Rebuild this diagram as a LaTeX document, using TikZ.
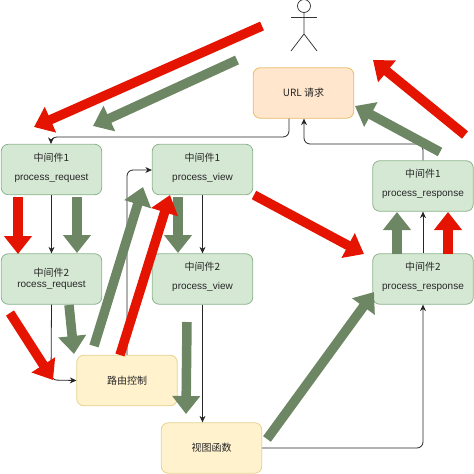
\documentclass[tikz,border=0pt]{standalone}
\usepackage{fontspec}
\setmainfont{Liberation Sans}
\newfontfamily\cjk{Noto Sans CJK SC}
\usetikzlibrary{arrows.meta}
\tikzset{
  x=1pt,y=-1pt,
  box/.style={draw=#1,rectangle,rounded corners=7pt,line width=0.8pt,minimum width=100.5pt,minimum height=50.5pt,inner sep=0pt,align=center,font=\fontsize{10}{12}\selectfont,text=black!85},
  gbox/.style={box=green!35!black!45!white,fill=greenfill,text depth=6pt},
  obox/.style={box=orangeline,fill=orangefill},
  ybox/.style={box=yellowline,fill=yellowfill},
  conn/.style={draw=black!85,line width=0.8pt,rounded corners=6pt,-{Stealth[length=6.5pt,width=6pt]}},
  fat/.style={draw=#1,line width=9.5pt,-{Triangle[length=18pt,width=27pt]}},
  stick/.style={draw=black!80,line width=0.75pt}
}
\definecolor{greenfill}{HTML}{D5E8D4}
\definecolor{orangefill}{HTML}{FFE6CC}
\definecolor{orangeline}{HTML}{E8BC6A}
\definecolor{yellowfill}{HTML}{FFF2CC}
\definecolor{yellowline}{HTML}{E6D28E}
\definecolor{fatgreen}{HTML}{6D8764}
\definecolor{fatred}{HTML}{E51400}
\begin{document}
\begin{tikzpicture}
\useasboundingbox (0,0) rectangle (474,474);
\clip (0,0) rectangle (474,474);
% stick figure
\node[circle,draw=black!80,line width=0.75pt,fill=white,minimum size=13pt,inner sep=0pt] (head) at (304,6) {};
\coordinate (hip) at (304,34);
\coordinate (lf) at (291,51);
\coordinate (rf) at (317,51);
\coordinate (al) at (291,17);
\coordinate (ar) at (316.5,17);
\draw[stick] (head.south) -- (hip) -- (lf);
\draw[stick] (hip) -- (rf);
\draw[stick] (al) -- (ar);
% boxes
\node[obox] (url) at (303.5,93) {{\cjk URL 请求}};
\node[gbox] (a1) at (51.5,169.5) {{\cjk 中间件1}\\[7pt]process\_request};
\node[gbox] (b1) at (202.5,169.5) {{\cjk 中间件1}\\[7pt]process\_view};
\node[gbox] (d1) at (423,186) {{\cjk 中间件1}\\[7pt]process\_response};
\node[box=green!35!black!45!white,fill=greenfill,text depth=3pt] (a2) at (51.5,279) {{\cjk 中间件2}\\[-1pt]rocess\_request};
\node[gbox] (b2) at (202.5,279) {{\cjk 中间件2}\\[7pt]process\_view};
\node[gbox] (d2) at (423,279) {{\cjk 中间件2}\\[7pt]process\_response};
\node[ybox] (route) at (127,380.5) {{\cjk 路由控制}};
\node[ybox] (fn) at (211.5,448) {{\cjk 视图函数}};
% thin connectors
\coordinate (c1) at (289,137);
\coordinate (c2) at (51,137);
\coordinate (c3) at (51,380);
\coordinate (c4) at (127,170);
\coordinate (c5) at (423,448);
\coordinate (c6) at (423,144);
\coordinate (c7) at (304,144);
\draw[conn] (url.south -| c1) -- (c1) -- (c2) -- (a1.north -| c2);
\draw[conn] (a1.south) -- (a2.north);
\draw[conn] (a2.south) -- (c3) -- (route.west);
\draw[conn] (route.north) -- (c4) -- (b1.west |- c4);
\draw[conn] (b1.south) -- (b2.north);
\draw[conn] (b2.south) -- (fn.north -| b2.south);
\draw[conn] (fn.east) -- (c5) -- (d2.south);
\draw[conn] (d2.north) -- (d1.south);
\draw[conn] (d1.north) -- (c6) -- (c7) -- (url.south -| c7);
% thick flow arrows
\coordinate (r1s) at (262,26); \coordinate (r1e) at (34,127);
\coordinate (g1s) at (237,60); \coordinate (g1e) at (93,126);
\coordinate (r2s) at (18,197); \coordinate (r2e) at (18,254);
\coordinate (g2s) at (77,197); \coordinate (g2e) at (77,253);
\coordinate (g3s) at (69,305); \coordinate (g3e) at (74,354);
\coordinate (r3s) at (10,313); \coordinate (r3e) at (53,380);
\coordinate (g4s) at (94,346); \coordinate (g4e) at (143,187);
\coordinate (r4s) at (120,355); \coordinate (r4e) at (170,195);
\coordinate (g5s) at (178,197); \coordinate (g5e) at (178,253);
\coordinate (g6s) at (187,322); \coordinate (g6e) at (186,414);
\coordinate (r5s) at (254,195); \coordinate (r5e) at (364,254);
\coordinate (g7s) at (267,439); \coordinate (g7e) at (374,292);
\coordinate (g8s) at (397,254); \coordinate (g8e) at (397,212);
\coordinate (r6s) at (448,254); \coordinate (r6e) at (448,212);
\coordinate (g9s) at (440,152); \coordinate (g9e) at (355,106);
\coordinate (r7s) at (465,135); \coordinate (r7e) at (373,60);
\foreach \n in {g1,g2,g3,g4,g5,g6,g7,g8,g9}{\draw[fat=fatgreen] (\n s) -- (\n e);}
\foreach \n in {r1,r2,r3,r4,r5,r6,r7}{\draw[fat=fatred] (\n s) -- (\n e);}
\end{tikzpicture}
\end{document}
